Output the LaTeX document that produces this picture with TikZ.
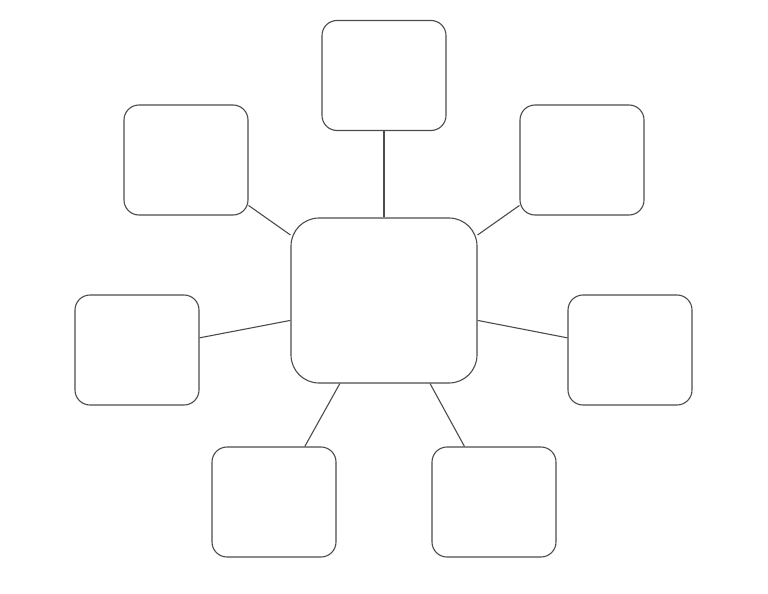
\documentclass[tikz,border=0pt]{standalone}
\begin{document}
\begin{tikzpicture}[x=1pt,y=-1pt,
  line width=1.1pt,
  ln/.style={draw=black!70},
  smallbox/.style={ln, fill=white, rectangle, rounded corners=15pt, minimum width=124pt, minimum height=110pt, inner sep=0pt},
  hubbox/.style={ln, fill=white, rectangle, rounded corners=28pt, minimum width=186pt, minimum height=165pt, inner sep=0pt},
  link/.style={ln}]
\useasboundingbox (0,0) rectangle (768,594);
\node[hubbox] (c) at (384,300.5) {};
\node[smallbox] (t) at (384,75.5) {};
\node[smallbox] (tl) at (186,160) {};
\node[smallbox] (tr) at (582,160) {};
\node[smallbox] (l) at (137,350) {};
\node[smallbox] (r) at (630,350) {};
\node[smallbox] (bl) at (274,502) {};
\node[smallbox] (br) at (494,502) {};
\draw[link] (t.south) -- (c.north);
\draw[link] (tl.-36) -- (c.145);
\draw[link] (tr.216) -- (c.35);
\draw[link] (l.11) -- (c.-168);
\draw[link] (r.169) -- (c.-12);
\draw[link] (bl.61.4) -- (c.-118.6);
\draw[link] (br.118.6) -- (c.-61.4);
\end{tikzpicture}
\end{document}
